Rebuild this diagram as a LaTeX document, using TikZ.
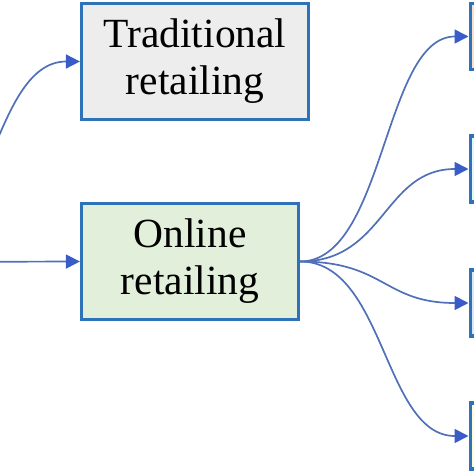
\documentclass[tikz,border=0pt]{standalone}
\usepackage{fontspec}
\setmainfont{Liberation Serif}
\usetikzlibrary{arrows.meta}
\definecolor{boxline}{HTML}{2E72B8}
\definecolor{conn}{HTML}{5070B8}
\definecolor{tip}{HTML}{3A5CC8}
\definecolor{tradfill}{HTML}{EDEDED}
\definecolor{onfill}{HTML}{E2EFDA}
\definecolor{peach}{HTML}{FBE0CF}
\definecolor{cyanfill}{HTML}{E3F7FD}
\definecolor{bluefill}{HTML}{DAE8F7}
\definecolor{yellowfill}{HTML}{FDFBDA}
\begin{document}
\begin{tikzpicture}[x=1pt,y=-1pt,
  box/.style={draw=boxline, line width=3.2pt, align=center, inner sep=0pt,
    font=\fontsize{41.5}{47}\selectfont},
  sidebox/.style={draw=boxline, line width=3.2pt, minimum width=100pt, minimum height=66pt, anchor=west, inner sep=0pt},
  conline/.style={draw=conn, line width=1.7pt, -{Triangle[length=14pt,width=14pt,fill=tip,color=tip]}}
]
\useasboundingbox (0,0) rectangle (474,474);
\clip (0,0) rectangle (474,474);
\node[box, fill=tradfill, minimum width=227pt, minimum height=116pt] (trad) at (195,61.5) {Traditional\\retailing};
\node[box, fill=onfill, minimum width=217pt, minimum height=116pt] (on) at (190,261.5) {Online\\retailing};
\node[sidebox, fill=peach] (r1) at (468.5,36.5) {};
\node[sidebox, fill=cyanfill] (r2) at (468.5,169) {};
\node[sidebox, fill=bluefill] (r3) at (468.5,303) {};
\node[sidebox, fill=yellowfill] (r4) at (468.5,436) {};
\coordinate (src) at (-100,262);
\draw[conline] (src) .. controls +(90.5,0) and +(-90.5,0) .. (trad.west);
\draw[conline] (src) -- (on.west);
\draw[conline] (on.east) .. controls +(85,0) and +(-85,0) .. (r1.west);
\draw[conline] (on.east) .. controls +(85,0) and +(-85,0) .. (r2.west);
\draw[conline] (on.east) .. controls +(85,0) and +(-85,0) .. (r3.west);
\draw[conline] (on.east) .. controls +(85,0) and +(-85,0) .. (r4.west);
\end{tikzpicture}
\end{document}
